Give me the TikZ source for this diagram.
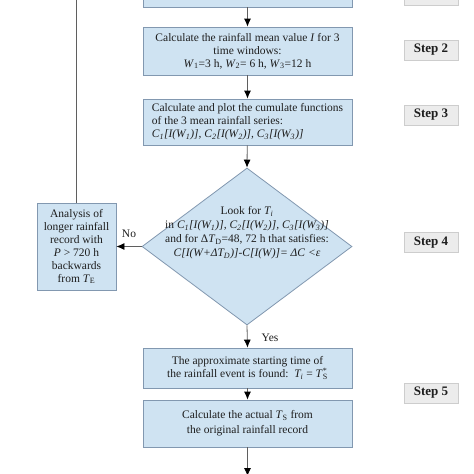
\documentclass[tikz,border=0pt]{standalone}
\usepackage{fontspec}
\setmainfont{Liberation Serif}
\usetikzlibrary{arrows.meta,shapes.geometric}
\definecolor{boxfill}{RGB}{207,227,242}
\definecolor{boxline}{RGB}{130,152,176}
\definecolor{stepfill}{RGB}{236,236,236}
\definecolor{stepline}{RGB}{205,205,205}
\definecolor{conn}{RGB}{95,95,95}
\definecolor{txt}{RGB}{30,30,30}
\newcommand{\sbs}[1]{\textsubscript{#1}}
\tikzset{
  flowbox/.style={draw=boxline, fill=boxfill, line width=0.8pt, inner sep=0pt,
    minimum width=209pt, align=center, text=txt,
    font=\fontsize{11.5}{13}\selectfont},
  stepbox/.style={draw=stepline, fill=stepfill, line width=0.8pt, inner sep=0pt,
    minimum width=54pt, minimum height=20pt, text=txt,
    font=\fontsize{13}{15}\selectfont\bfseries},
  conn/.style={draw=conn, line width=0.8pt, -{Latex[length=8pt,width=7pt,color=black]}},
  lbl/.style={text=txt, font=\fontsize{11.5}{13}\selectfont, inner sep=0pt}
}
\begin{document}
\begin{tikzpicture}[x=1pt,y=-1pt]
\useasboundingbox (0,0) rectangle (474,474);
\clip (0,0) rectangle (474,474);
\fill[white] (0,0) rectangle (474,474);
% main column
\node[flowbox, minimum height=40pt] (b1) at (247.5,-13) {};
\node[flowbox, minimum height=48pt] (b2) at (247.5,51)
  {Calculate the rainfall mean value \textit{I} for 3\\ time windows:\\
   \textit{W}\sbs{1}=3 h, \textit{W}\sbs{2}= 6 h, \textit{W}\sbs{3}=12 h};
\node[flowbox, minimum height=46pt, align=left] (b3) at (247.5,122)
  {Calculate and plot the cumulate functions\\ of the 3 mean rainfall series:\\
   \textit{C\sbs{1}[I(W\sbs{1})], C\sbs{2}[I(W\sbs{2})], C\sbs{3}[I(W\sbs{3})]}};
\node[diamond, draw=boxline, fill=boxfill, line width=0.8pt, inner sep=0pt,
  minimum width=210pt, minimum height=157pt] (d) at (247,246.5) {};
\node[lbl, align=center, font=\fontsize{11.5}{14}\selectfont] (dt) at (247,233)
  {Look for \textit{T\sbs{i}}\\
   in \textit{C\sbs{1}[I(W\sbs{1})], C\sbs{2}[I(W\sbs{2})], C\sbs{3}[I(W\sbs{3})]}\\
   and for Δ\textit{T}\sbs{D}=48, 72 h that satisfies:\\
   \textit{C[I(W+ΔT\sbs{D})]-C[I(W)]= ΔC <ε}};
\node[flowbox, minimum height=40pt] (b5) at (247.5,368)
  {The approximate starting time of\\
   the rainfall event is found:\ \ \textit{T\sbs{i}} = \textit{T}\rlap{\textsuperscript{*}}\sbs{S}};
\node[flowbox, minimum height=47pt] (b6) at (247.5,423.5)
  {Calculate the actual \textit{T}\sbs{S} from\\[2pt] the original rainfall record};
\coordinate (end) at (247.5,476);
% left box
\node[flowbox, minimum width=79pt, minimum height=87pt] (lb) at (76.5,246.5)
  {Analysis of\\ longer rainfall\\ record with\\ \textit{P} > 720 h\\ backwards\\ from \textit{T}\sbs{E}};
\coordinate (up) at (76.5,-5);
% connectors
\draw[conn] (b1) -- (b2);
\draw[conn] (b2) -- (b3);
\draw[conn] (b3) -- (d.north);
\draw[conn] (d.south) -- (b5.north);
\draw[conn] (b5) -- (b6);
\draw[conn] (b6) -- (end);
\draw[conn] (d.west) -- (lb.east);
\draw[draw=conn, line width=0.8pt] (lb.north) -- (up);
\node[lbl] (yes) at (270,337.5) {Yes};
\node[lbl] (no) at (129,234) {No};
% step labels
\node[stepbox] (s1) at (431,-5) {\raisebox{-2.2pt}{Step 1}};
\node[stepbox] (s2) at (431,50) {Step 2};
\node[stepbox] (s3) at (431,115) {Step 3};
\node[stepbox] (s4) at (431,242.5) {Step 4};
\node[stepbox] (s5) at (431,393) {Step 5};
\end{tikzpicture}
\end{document}
